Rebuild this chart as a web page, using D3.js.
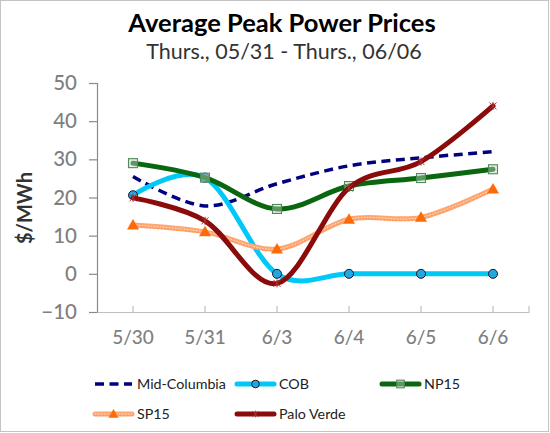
<!DOCTYPE html>
<html><head><meta charset="utf-8">
<script src="https://cdn.jsdelivr.net/npm/d3@7"></script>
<style>
html,body{margin:0;padding:0;background:#fff;}
svg{display:block;}
text{font-family:Lato,"Open Sans",sans-serif;}
</style></head>
<body>
<svg id="c" width="550" height="433"></svg>
<script>
const categories = ["5/30","5/31","6/3","6/4","6/5","6/6"];
const midColumbia = [25.5, 17.8, 23.6, 28.3, 30.4, 32.0];
const cob        = [20.6, 25.2, 0, 0, 0, 0];
const np15       = [29.0, 25.2, 17.0, 23.0, 25.1, 27.4];
const sp15       = [12.8, 11.0, 6.5, 14.3, 14.8, 22.2];
const paloVerde  = [19.9, 13.9, -2.5, 22.5, 29.4, 44.0];
const yTicks = [-10, 0, 10, 20, 30, 40, 50];
const seriesNames = ["Mid-Columbia","COB","NP15","SP15","Palo Verde"];
const title = "Average Peak Power Prices";
const subtitle = "Thurs., 05/31 - Thurs., 06/06";
const yTitle = "$/MWh";

const series = [
  {name: seriesNames[0], values: midColumbia, color:"#000080", width:3.5, dash:"9,5.5", marker:null},
  {name: seriesNames[1], values: cob, color:"#00c8f7", width:5, marker:"circle"},
  {name: seriesNames[2], values: np15, color:"#0a660f", width:5, marker:"square"},
  {name: seriesNames[3], values: sp15, color:"#ffa670", width:5, marker:"triangle", hatch:true},
  {name: seriesNames[4], values: paloVerde, color:"#8b0a0a", width:5, marker:"x"}
];

const svg = d3.select("#c");
svg.append("rect").attr("x",0.5).attr("y",0.5).attr("width",548).attr("height",431)
  .attr("fill","#fff").attr("stroke","#c4c4c4").attr("stroke-width",1);

// titles
svg.append("text").attr("x",282).attr("y",32).attr("text-anchor","middle")
  .attr("font-size",25.5).attr("font-weight","bold").attr("fill","#000").text(title);
svg.append("text").attr("x",284).attr("y",59).attr("text-anchor","middle")
  .attr("font-size",21.5).attr("fill","#333").text(subtitle);

const x = d3.scaleBand().domain(categories).range([97, 529]);
const cx = c => x(c) + x.bandwidth()/2;
const y = d3.scaleLinear().domain([-10, 50]).range([312, 83]);

const axisFont = "'Open Sans', Lato, sans-serif";
// y axis
const yAxis = d3.axisLeft(y).tickValues(yTicks).tickSize(8).tickPadding(12);
const gy = svg.append("g").attr("transform","translate(97,0)").call(yAxis);
gy.select(".domain").attr("stroke","#8a8a8a").attr("stroke-width",1.2);
gy.selectAll(".tick line").attr("stroke","#8a8a8a").attr("stroke-width",1.2);
gy.selectAll(".tick text").attr("font-size",20.5).attr("fill","#7f7f7f")
  .attr("font-family",axisFont).attr("font-weight","500");

// x axis
const xAxis = d3.axisBottom(x).tickSize(0).tickPadding(19);
const gx = svg.append("g").attr("transform","translate(0,312)").call(xAxis);
gx.select(".domain").attr("stroke","#c0c0c0").attr("stroke-width",1.2);
gx.selectAll(".tick text").attr("font-size",19).attr("fill","#7f7f7f")
  .attr("font-family",axisFont).attr("font-weight","500");
// inward tick marks at category centers and at the axis end
const xt = categories.map(cx).concat([x.range()[1]]);
svg.append("g").selectAll("line").data(xt).join("line")
  .attr("x1",d=>d).attr("x2",d=>d).attr("y1",306).attr("y2",312)
  .attr("stroke","#c0c0c0").attr("stroke-width",1.2);

// y title
svg.append("text").attr("transform","translate(32,208) rotate(-90)")
  .attr("text-anchor","middle").attr("font-size",20).attr("font-weight","bold")
  .attr("fill","#333").text(yTitle);

const line = d3.line().x((d,i)=>cx(categories[i])).y(d=>y(d)).curve(d3.curveCardinal.tension(0));

function drawLine(g, s, path){
  const p = g.append("path").attr("d",path).attr("fill","none")
    .attr("stroke",s.color).attr("stroke-width",s.width)
    .attr("stroke-linejoin","round");
  if (s.dash) p.attr("stroke-dasharray",s.dash).attr("stroke-linecap","butt");
  else p.attr("stroke-linecap","round");
  if (s.hatch){
    g.append("path").attr("d",path).attr("fill","none")
      .attr("stroke","#ffe0cc").attr("stroke-width",1).attr("stroke-dasharray","1.5,1.5");
    g.append("path").attr("d",path).attr("fill","none")
      .attr("stroke","#ff8f52").attr("stroke-width",1).attr("stroke-dasharray","1.5,2.5")
      .attr("transform","translate(0,1.6)");
  }
}
function drawMarker(g, s, px, py, k){
  k = k || 1;
  if (s.marker==="circle"){
    g.append("circle").attr("cx",px).attr("cy",py).attr("r",4.5*k)
      .attr("fill","#21a8e0").attr("stroke","#1a1a2a").attr("stroke-width",1);
  } else if (s.marker==="square"){
    g.append("rect").attr("x",px-4.5*k).attr("y",py-4.5*k).attr("width",9*k).attr("height",9*k)
      .attr("fill","rgba(190,210,190,0.45)").attr("stroke","#4f8a5a").attr("stroke-width",1.1);
  } else if (s.marker==="triangle"){
    g.append("path").attr("transform",`translate(${px},${py}) scale(${k})`)
      .attr("d","M0,-6L6,4.5L-6,4.5Z").attr("fill","#ff6a08");
  } else if (s.marker==="x"){
    g.append("path").attr("transform",`translate(${px},${py}) scale(${k})`)
      .attr("d","M-3.5,-3.5L3.5,3.5M-3.5,3.5L3.5,-3.5M0,-4L0,4")
      .attr("stroke","#b03030").attr("stroke-width",1).attr("fill","none");
  }
}

const plot = svg.append("g");
series.forEach(s=>{
  const g = plot.append("g");
  drawLine(g, s, line(s.values));
  s.values.forEach((v,i)=> drawMarker(g, s, cx(categories[i]), y(v)));
});

// legend
const legendPos = [[95,384],[237,384],[382,384],[95,414],[237,414]];
const legendTexts = [];
series.forEach((s,i)=>{
  const [lx,ly] = legendPos[i];
  const g = svg.append("g");
  drawLine(g, s, `M${lx},${ly}L${lx+37},${ly}`);
  if (s.marker) drawMarker(g, s, lx+18.5, ly, 0.85);
  legendTexts.push(g.append("text").attr("x",lx+42).attr("y",ly).attr("dy","0.36em")
    .attr("font-size",16).attr("fill","#222").attr("font-weight","normal").text(s.name));
});
// fit legend font so "Mid-Columbia" is about 89px wide, like the reference
const w0 = legendTexts[0].node().getComputedTextLength();
const fs = Math.min(16, 16*89/w0);
legendTexts.forEach(t=>t.attr("font-size",fs));
</script>
</body></html>
